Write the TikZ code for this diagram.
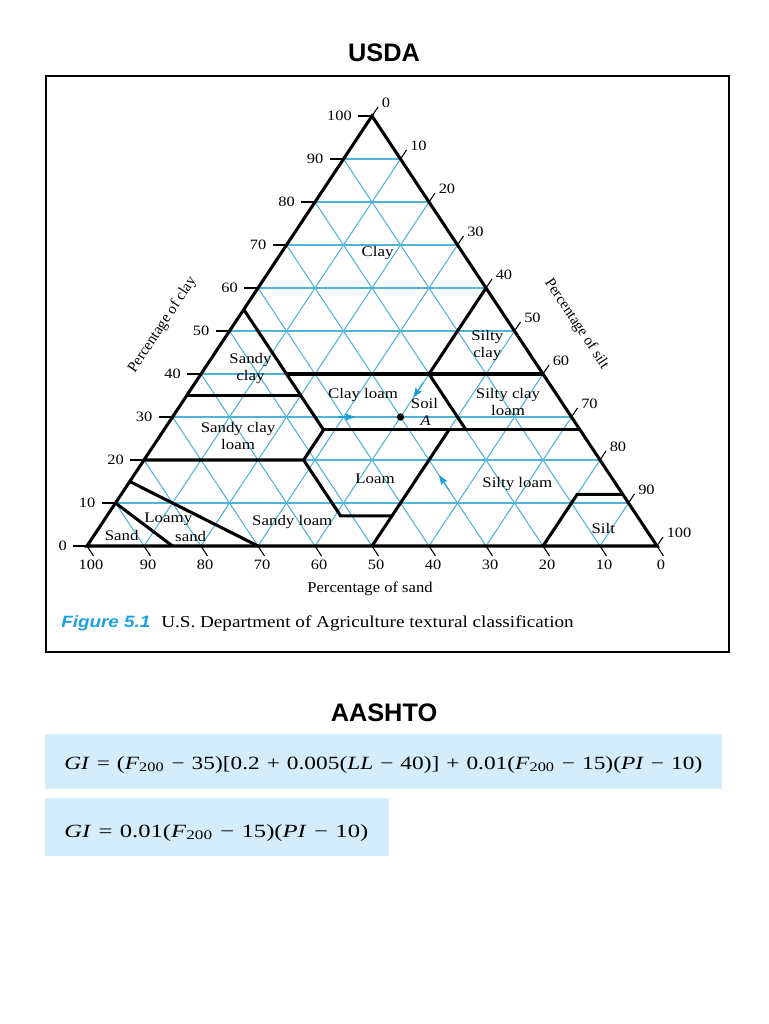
\documentclass[tikz,border=0pt]{standalone}
\usepackage{fontspec}
\setmainfont{Liberation Serif}
\newfontfamily\arialfont{Liberation Sans}
\usepackage{graphicx}
\usetikzlibrary{arrows.meta}
\definecolor{gridc}{RGB}{80,180,214}
\definecolor{arrc}{RGB}{25,158,215}
\definecolor{boxc}{RGB}{213,236,250}
\definecolor{figc}{RGB}{28,160,224}
\newcommand\sx[1]{\scalebox{1.15}[1]{#1}}
% ternary coordinate: name, clay, silt
\newcommand\tc[3]{\coordinate (#1) at ({87+5.7*(#3)+2.85*(#2)},{546-4.3*(#2)});}
\newcommand\bop[1]{\hspace{0.3em}#1\hspace{0.3em}}
\begin{document}
\begin{tikzpicture}[x=0.75pt,y=-0.75pt,
  gridline/.style={draw=gridc,line width=0.8pt},
  bound/.style={draw=black,line width=2.3pt,line join=miter,line cap=butt},
  tickln/.style={draw=black,line width=0.8pt},
  numlab/.style={font=\fontsize{10.7}{12}\selectfont,inner sep=0pt},
  reglab/.style={font=\fontsize{11}{12.8}\selectfont,inner sep=0pt,align=center},
  axlab/.style={font=\fontsize{11.3}{13}\selectfont,inner sep=0pt},
  titlelab/.style={font=\arialfont\fontsize{19}{22}\selectfont\bfseries,inner sep=0pt,anchor=base},
  formula/.style={font=\fontsize{14}{16}\selectfont,inner sep=0pt,anchor=base west},
  arrowhd/.style={draw=arrc,line width=0.8pt,-{Stealth[length=7.5pt,width=5.5pt,inset=1.5pt]}}]
\useasboundingbox (0,0) rectangle (768,1024);

% titles
\node[titlelab] (usda) at (384,61.7) {USDA};
\node[titlelab] (aashto) at (384,721.5) {AASHTO};

% frame
\draw[line width=0.9pt] (46,76) rectangle (729,652);

% grid
\foreach \c in {10,20,...,90} {
  \draw[gridline] ({87+2.85*\c},{546-4.3*\c}) -- ({87+5.7*(100-\c)+2.85*\c},{546-4.3*\c});
  \draw[gridline] ({87+5.7*\c},546) -- ({87+5.7*\c+2.85*(100-\c)},{546-4.3*(100-\c)});
  \draw[gridline] ({87+5.7*(100-\c)},546) -- ({87+2.85*(100-\c)},{546-4.3*(100-\c)});
}

% ticks and numbers
\foreach \c in {0,10,...,100} {
  \draw[tickln] ({87+2.85*\c-14},{546-4.3*\c}) -- ({87+2.85*\c},{546-4.3*\c});
  \node[numlab,anchor=east] (cl\c) at ({87+2.85*\c-20},{546-4.3*\c}) {\sx{\c}};
  \draw[tickln] ({372+2.85*\c},{116+4.3*\c}) -- ({378+2.85*\c},{107+4.3*\c});
  \node[numlab,anchor=south west] (si\c) at ({381.5+2.85*\c},{107.5+4.3*\c}) {\sx{\c}};
  \draw[tickln] ({87+5.7*(100-\c)},546) -- ({93.5+5.7*(100-\c)},556);
  \node[numlab,anchor=north] (sa\c) at ({91+5.7*(100-\c)},560) {\sx{\c}};
}

% triangle
\tc{S}{0}{0} \tc{T}{0}{100} \tc{C}{100}{0}
\draw[bound] (S) -- (T) -- (C) -- cycle;

% boundaries (clay, silt)
\tc{b1}{55}{0} \tc{b2}{27}{28}
\tc{b3}{35}{0} \tc{b4}{35}{20}
\tc{b5}{40}{15} \tc{b6}{40}{60}
\tc{b7}{60}{40} \tc{b8}{40}{40}
\tc{b9}{27}{53} \tc{b10}{27}{73}
\tc{b11}{20}{28} \tc{b12}{20}{0}
\tc{b13}{7}{41} \tc{b14}{7}{50}
\tc{b15}{27}{50} \tc{b16}{0}{50}
\tc{b17}{15}{0} \tc{b18}{0}{30}
\tc{b19}{10}{0} \tc{b20}{0}{15}
\tc{b21}{0}{80} \tc{b22}{12}{80} \tc{b23}{12}{88}
\draw[bound] (b1) -- (b2);
\draw[bound] (b3) -- (b4);
\draw[bound] (b5) -- (b6);
\draw[bound] (b7) -- (b8) -- (b9);
\draw[bound] (b2) -- (b10);
\draw[bound] (b12) -- (b11) -- (b2);
\draw[bound] (b11) -- (b13) -- (b14);
\draw[bound] (b15) -- (b16);
\draw[bound] (b17) -- (b18);
\draw[bound] (b19) -- (b20);
\draw[bound] (b21) -- (b22) -- (b23);

% soil A and reading arrows
\tc{A}{30}{40}
\tc{h1}{30}{29} \tc{h2}{30}{32}
\tc{s1}{38}{40} \tc{s2}{34.5}{40}
\tc{d1}{13}{57} \tc{d2}{16.5}{53.5}
\draw[arrowhd] (h1) -- (h2);
\draw[arrowhd] (s1) -- (s2);
\draw[arrowhd] (d1) -- (d2);
\node[circle,fill=black,inner sep=0pt,minimum size=5.5pt] (soilA) at (A) {};

% region labels
\node[reglab] (lclay) at (377.5,253.3) {\sx{Clay}};
\node[reglab] (lsc) at (250.5,368.5) {\sx{Sandy}\\\sx{clay}};
\node[reglab] (lscl) at (238,436) {\sx{Sandy clay}\\\sx{loam}};
\node[reglab] (lcl) at (363,395) {\sx{Clay loam}};
\node[reglab] (lsoil) at (424.5,403.3) {\sx{Soil}};
\node[reglab] (lA) at (425.5,420.7) {\sx{\itshape A}};
\node[reglab] (lsic) at (487.3,345.7) {\sx{Silty}\\\sx{clay}};
\node[reglab] (lsicl) at (508,402) {\sx{Silty clay}\\\sx{loam}};
\node[reglab] (lloam) at (375,478.3) {\sx{Loam}};
\node[reglab] (lsil) at (517.3,484.3) {\sx{Silty loam}};
\node[reglab] (lsl) at (292.3,522.3) {\sx{Sandy loam}};
\node[reglab] (lls1) at (168.3,519.3) {\sx{Loamy}};
\node[reglab] (lls2) at (190.7,536) {\sx{sand}};
\node[reglab] (lsand) at (121.7,535) {\sx{Sand}};
\node[reglab] (lsilt) at (603.3,528.3) {\sx{Silt}};

% axis labels
\node[axlab,rotate=56.5] (pclay) at (162.5,325) {Percentage of clay};
\node[axlab,rotate=-56.5] (psilt) at (576.5,324) {Percentage of silt};
\node[axlab] (psand) at (370,589) {\scalebox{1.1}[1]{Percentage of sand}};

% caption
\node[inner sep=0pt,anchor=base west,font=\arialfont\fontsize{12.3}{14}\selectfont\bfseries\itshape,text=figc] (figno) at (61,627.5) {\sx{Figure 5.1}};
\node[inner sep=0pt,anchor=base west,font=\fontsize{12.5}{14}\selectfont] (figcap) at (161,627.5) {\sx{U.S. Department of Agriculture textural classification}};

% AASHTO formulas
\fill[boxc] (45,734) rectangle (722,789);
\fill[boxc] (45,798) rectangle (389,856);
\node[formula] (gi1) at (64,769) {\resizebox{478.5pt}{\height}{\textit{GI}\bop{=}(\textit{F}\textsubscript{200}\bop{−}35)[0.2\bop{+}0.005(\textit{LL}\bop{−}40)]\bop{+}0.01(\textit{F}\textsubscript{200}\bop{−}15)(\textit{PI}\bop{−}10)}};
\node[formula] (gi2) at (64,837) {\resizebox{228pt}{\height}{\textit{GI}\bop{=}0.01(\textit{F}\textsubscript{200}\bop{−}15)(\textit{PI}\bop{−}10)}};
\end{tikzpicture}
\end{document}
